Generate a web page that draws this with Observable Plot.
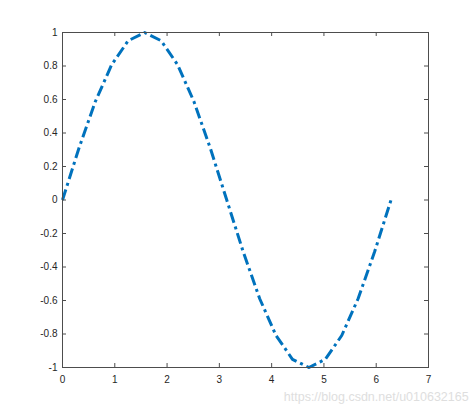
<!DOCTYPE html>
<html><head><meta charset="utf-8">
<script src="https://cdn.jsdelivr.net/npm/d3@7"></script>
<script src="https://cdn.jsdelivr.net/npm/@observablehq/plot@0.6"></script>
<style>body{margin:0;background:#fff;} svg{display:block}</style>
</head><body><div id="chart"></div>
<script>
const xValues = [0, 0.3142, 0.6283, 0.9425, 1.2566, 1.5708, 1.8850, 2.1991, 2.5133, 2.8274, 3.1416, 3.4558, 3.7699, 4.0841, 4.3982, 4.7124, 5.0265, 5.3407, 5.6549, 5.9690, 6.2832];
const yValues = [0, 0.309, 0.588, 0.809, 0.951, 1, 0.951, 0.809, 0.588, 0.309, 0, -0.309, -0.588, -0.809, -0.951, -1, -0.951, -0.809, -0.588, -0.309, 0];
const xTicks = [0, 1, 2, 3, 4, 5, 6, 7];
const yTicks = [-1, -0.8, -0.6, -0.4, -0.2, 0, 0.2, 0.4, 0.6, 0.8, 1];
const watermark = [{x: 6, t: "https://blog.csdn.net/u010632165"}];

const data = xValues.map((x, i) => ({x, y: yValues[i]}));
const W = 474, H = 413, mL = 62, mR = 46, mT = 32, mB = 46;
const fw = W - mL - mR, fh = H - mT - mB;
const tk = 4;
const axisColor = "#4d4d4d";
const fmt = d => String(Math.round(d * 10) / 10);

const chart = Plot.plot({
  width: W, height: H,
  marginLeft: mL, marginRight: mR, marginTop: mT, marginBottom: mB,
  style: {fontFamily: "'Liberation Sans', Arial, sans-serif", fontSize: "10px", color: "#262626", background: "#fff"},
  x: {domain: [0, 7], label: null},
  y: {domain: [-1, 1], label: null},
  marks: [
    Plot.line(data, {x: "x", y: "y", stroke: "#0072BD", strokeWidth: 3, strokeDasharray: "11,4,3,4", strokeLinecap: "butt"}),
    Plot.frame({stroke: axisColor, strokeWidth: 1}),
    Plot.tickX(xTicks, {x: d => d, insetTop: fh - tk, stroke: axisColor}),
    Plot.tickX(xTicks, {x: d => d, insetBottom: fh - tk, stroke: axisColor}),
    Plot.tickY(yTicks, {y: d => d, insetRight: fw - tk, stroke: axisColor}),
    Plot.tickY(yTicks, {y: d => d, insetLeft: fw - tk, stroke: axisColor}),
    Plot.axisX(xTicks, {tickSize: 0, tickPadding: 8, tickFormat: fmt, label: null, fill: "#262626"}),
    Plot.axisY(yTicks, {tickSize: 0, tickPadding: 5, tickFormat: fmt, label: null, fill: "#262626"}),
    Plot.text(watermark, {x: "x", text: "t", frameAnchor: "bottom", dy: 33, fontSize: 12.5, fill: "#dedede"})
  ]
});
document.getElementById("chart").appendChild(chart);
</script>
</body></html>
